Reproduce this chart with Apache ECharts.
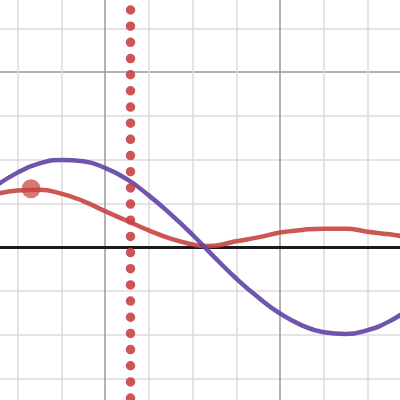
<!DOCTYPE html>
<html>
<head>
<meta charset="utf-8">
<script src="https://cdn.jsdelivr.net/npm/echarts@6/dist/echarts.min.js"></script>
<style>
html,body{margin:0;padding:0;background:#fff;}
#chart{width:400px;height:400px;}
</style>
</head>
<body>
<div id="chart"></div>
<script>
// purple curve: sample x positions and values
const purpleX = [-2.5,-2,-1.5,-1,-0.5,0,0.5,1,1.5,2,2.5,3,3.5,4,4.5,5,5.5,6,6.5,7];
const purpleY = [1.39,1.70,1.91,1.99,1.96,1.81,1.55,1.18,0.75,0.28,-0.23,-0.72,-1.15,-1.52,-1.79,-1.95,-1.99,-1.90,-1.70,-1.38];
// red curve: sample x positions and values
const redX = [-2.5,-2,-1.5,-1,-0.5,0,0.5,1,1.5,2,2.25,2.5,2.75,3,3.5,4,4.5,5,5.5,6,6.5,7];
const redY = [1.21,1.29,1.31,1.22,1.05,0.82,0.60,0.38,0.19,0.06,0.025,0.03,0.075,0.13,0.22,0.33,0.39,0.42,0.42,0.35,0.29,0.21];
// vertical dotted guide (x, y from, y to)
const guideX = 0.583;
const guideYs = [5.417, -4];
// highlighted point
const pointXY = [-1.69, 1.33];

const RED = 'rgba(199,68,64,0.9)';
const PURPLE = 'rgba(96,66,166,0.9)';

const chart = echarts.init(document.getElementById('chart'), null, {renderer:'canvas'});
chart.setOption({
  animation: false,
  backgroundColor: '#fff',
  grid: {left: -70, right: -55, top: -103, bottom: -22, containLabel: false, outerBoundsMode: 'none'},
  xAxis: {
    type: 'value', min: -4, max: 8, interval: 4,
    axisLine: {show: true, onZero: true, lineStyle: {color: '#1a1a1a', width: 3}},
    axisTick: {show: false}, axisLabel: {show: false},
    splitLine: {show: true, lineStyle: {color: '#999', width: 1.5}},
    minorTick: {show: false, splitNumber: 4},
    minorSplitLine: {show: true, lineStyle: {color: '#dcdcdc', width: 1.5}}
  },
  yAxis: {
    type: 'value', min: -4, max: 8, interval: 4,
    axisLine: {show: false}, axisTick: {show: false}, axisLabel: {show: false},
    splitLine: {show: true, lineStyle: {color: '#999', width: 1.5}},
    minorTick: {show: false, splitNumber: 4},
    minorSplitLine: {show: true, lineStyle: {color: '#dcdcdc', width: 1.5}}
  },
  series: [
    {
      type: 'line', smooth: 0.5, showSymbol: false, z: 3,
      data: redX.map((x,i)=>[x, redY[i]]),
      lineStyle: {color: RED, width: 4.5}
    },
    {
      type: 'line', smooth: 0.5, showSymbol: false, z: 4,
      data: purpleX.map((x,i)=>[x, purpleY[i]]),
      lineStyle: {color: PURPLE, width: 4.5}
    },
    {
      type: 'line', showSymbol: false, z: 5,
      data: guideYs.map(y=>[guideX, y]),
      lineStyle: {color: RED, width: 9.5, type: [0, 16.17], cap: 'round'}
    },
    {
      type: 'scatter', z: 6, symbolSize: 19,
      data: [pointXY],
      itemStyle: {color: RED}
    }
  ]
});
</script>
</body>
</html>
